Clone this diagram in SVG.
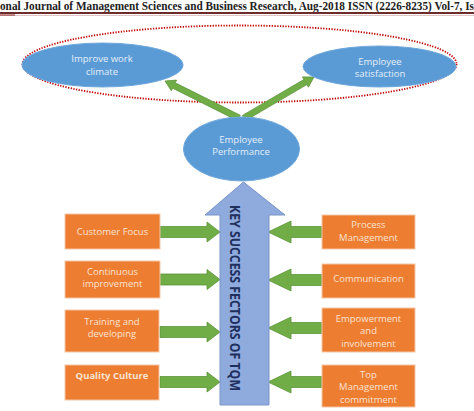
<svg xmlns="http://www.w3.org/2000/svg" width="474" height="411" viewBox="0 0 474 411">
<style>
.hdr{font-family:"Liberation Serif",serif;font-weight:bold;font-size:11.5px;fill:#222}
.ell{fill:#5B9BD5;stroke:#6FA8DC;stroke-width:1}
.etx{font-family:"Open Sans","Liberation Sans",sans-serif;font-size:9.5px;fill:#E3EEF9;text-anchor:middle}
.box{fill:#ED7D31;stroke:#F6C7A6;stroke-width:1}
.btx{font-family:"Open Sans","Liberation Sans",sans-serif;font-size:9.5px;fill:#FBE3D2;text-anchor:middle}
.garr{fill:#70AD47;stroke:#5E963A;stroke-width:0.8}
.big{fill:#8FAADC;stroke:#7B95C9;stroke-width:1}
.vtx{font-family:"Open Sans","Liberation Sans",sans-serif;font-weight:bold;font-size:14.5px;fill:#1F2F5E;text-anchor:middle}
</style>
<rect width="474" height="411" fill="#FFFFFF"/>
<g id="header">
<text class="hdr" x="0" y="9.5" textLength="474" lengthAdjust="spacingAndGlyphs">onal Journal of Management Sciences and Business Research, Aug-2018 ISSN (2226-8235) Vol-7, Is</text>
<line x1="0" y1="13" x2="474" y2="13" stroke="#6E2B2B" stroke-width="2"/>
<line x1="0" y1="15.5" x2="474" y2="15.5" stroke="#D8B8B8" stroke-width="0.8"/>
<line x1="0" y1="15" x2="15" y2="15" stroke="#8B2020" stroke-width="1"/>
</g>
<g id="outcome-group">
<ellipse cx="239.5" cy="64" rx="217" ry="38.5" fill="none" stroke="#C00000" stroke-width="1.8" stroke-dasharray="1.3 1.4"/>
</g>
<g id="connectors">
<polygon class="garr" points="240.3,115.3 175.3,82.8 176.6,80.1 165,81 171.3,90.8 172.6,88.2 237.7,120.7"/>
<polygon class="garr" points="245.5,120.6 306.9,84.6 308.4,87.2 314,77 302.4,76.9 303.9,79.5 242.5,115.4"/>
<polygon class="garr" points="160,226.5 207,226.5 207,222 220,232 207,242 207,237.5 160,237.5"/>
<polygon class="garr" points="160,274 207,274 207,269.5 220,279.5 207,289.5 207,285 160,285"/>
<polygon class="garr" points="160,326.5 207,326.5 207,322 220,332 207,342 207,337.5 160,337.5"/>
<polygon class="garr" points="160,376.5 207,376.5 207,372 220,382 207,392 207,387.5 160,387.5"/>
<polygon class="garr" points="322,226.5 291,226.5 291,221 268,232 291,243 291,237.5 322,237.5"/>
<polygon class="garr" points="322,274.5 291,274.5 291,269 268,280 291,291 291,285.5 322,285.5"/>
<polygon class="garr" points="322,322.5 291,322.5 291,317 268,328 291,339 291,333.5 322,333.5"/>
<polygon class="garr" points="322,376.5 291,376.5 291,371 268,382 291,393 291,387.5 322,387.5"/>
</g>
<g id="improve-work-climate">
<ellipse class="ell" cx="102.5" cy="65" rx="80.5" ry="22"/>
<text class="etx" x="102" y="62">Improve work</text>
<text class="etx" x="102" y="75">climate</text>
</g>
<g id="employee-satisfaction">
<ellipse class="ell" cx="379.5" cy="66.5" rx="76.5" ry="20.5"/>
<text class="etx" x="380" y="65">Employee</text>
<text class="etx" x="380" y="76.5">satisfaction</text>
</g>
<g id="employee-performance">
<ellipse class="ell" cx="241.5" cy="149" rx="58" ry="32"/>
<text class="etx" x="241" y="142.5">Employee</text>
<text class="etx" x="241" y="154.5">Performance</text>
</g>
<g id="key-success-factors">
<polygon class="big" points="220,405 220,215 205,215 243.5,182 285,215 269,215 269,405"/>
<text class="vtx" transform="translate(229.5,298) rotate(90)" x="0" y="0" textLength="186" lengthAdjust="spacingAndGlyphs">KEY SUCCESS FECTORS OF TQM</text>
</g>
<g id="customer-focus">
<rect class="box" x="65" y="214" width="95" height="35"/>
<text class="btx" x="112.5" y="235">Customer Focus</text>
</g>
<g id="continuous-improvement">
<rect class="box" x="65" y="261" width="95" height="37"/>
<text class="btx" x="112.5" y="274.5">Continuous</text>
<text class="btx" x="112.5" y="286.5">improvement</text>
</g>
<g id="training-and-developing">
<rect class="box" x="65" y="310" width="94" height="42"/>
<text class="btx" x="112" y="324.5">Training and</text>
<text class="btx" x="112" y="336.5">developing</text>
</g>
<g id="quality-culture">
<rect class="box" x="65" y="365" width="94" height="35"/>
<text class="btx" x="112" y="378.5" font-weight="bold">Quality Culture</text>
</g>
<g id="process-management">
<rect class="box" x="322" y="215" width="93" height="34"/>
<text class="btx" x="368.5" y="227.5">Process</text>
<text class="btx" x="368.5" y="240.5">Management</text>
</g>
<g id="communication">
<rect class="box" x="322" y="264" width="93" height="34"/>
<text class="btx" x="368.5" y="281.5">Communication</text>
</g>
<g id="empowerment-and-involvement">
<rect class="box" x="322" y="308" width="93" height="44"/>
<text class="btx" x="368.5" y="321.5">Empowerment</text>
<text class="btx" x="368.5" y="334">and</text>
<text class="btx" x="368.5" y="346.5">involvement</text>
</g>
<g id="top-management-commitment">
<rect class="box" x="322" y="365" width="93" height="42"/>
<text class="btx" x="368.5" y="377.5">Top</text>
<text class="btx" x="368.5" y="390">Management</text>
<text class="btx" x="368.5" y="402.5">commitment</text>
</g>
</svg>
